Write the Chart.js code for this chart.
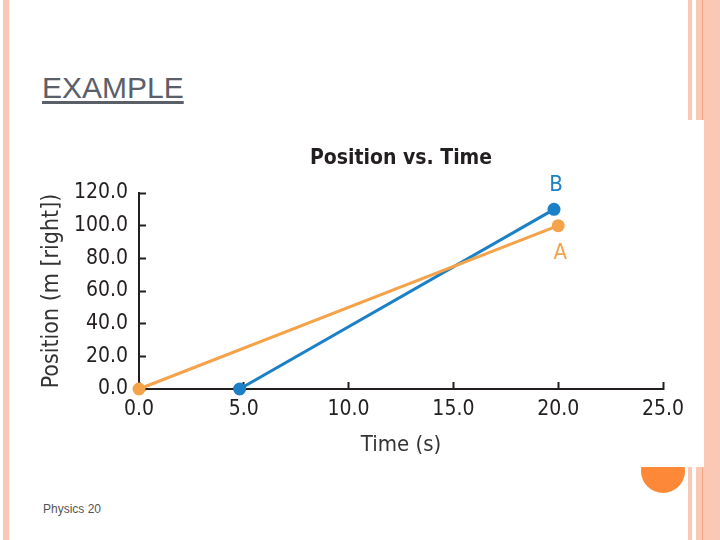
<!DOCTYPE html>
<html>
<head>
<meta charset="utf-8">
<script src="https://cdn.jsdelivr.net/npm/chart.js@4/dist/chart.umd.min.js"></script>
<style>
    html, body { margin: 0; padding: 0; background: #fff; }
    #slide { position: relative; width: 720px; height: 540px; overflow: hidden; font-family: 'Liberation Sans', Arial, sans-serif; }
    .stripe { position: absolute; top: 0; height: 540px; background: #fbc8b5; }
    #circle { position: absolute; left: 641px; top: 449px; width: 44px; height: 44px; border-radius: 50%; background: #fd8838; }
    #panel { position: absolute; left: 120px; top: 120px; width: 584px; height: 347px; background: #fff; }
    #heading { position: absolute; left: 42px; top: 71px; font-size: 30px; color: #5b6068; text-decoration: underline; text-decoration-thickness: 3px; text-underline-offset: 3px; }
    #footer { position: absolute; left: 43px; top: 502px; font-size: 12px; color: #555; }
    #chart { position: absolute; left: 0; top: 0; }
</style>
</head>
<body>
<div id="slide">
    <div class="stripe" style="left:3px; width:6px;"></div>
    <div class="stripe" style="left:688px; width:4px;"></div>
    <div class="stripe" style="left:696px; width:6px;"></div>
    <div class="stripe" style="left:702px; width:1px; background:#f3a889;"></div>
    <div class="stripe" style="left:703px; width:17px;"></div>
    <div id="circle"></div>
    <div id="panel"></div>
    <div id="heading">EXAMPLE</div>
    <div id="footer">Physics 20</div>
    <canvas id="chart" width="720" height="540"></canvas>
</div>
<script>
    const seriesNames = ['A', 'B'];
    const timeA = [0, 20];
    const positionA = [0, 100];
    const timeB = [4.8, 19.8];
    const positionB = [0, 110];
    const xTicks = [0, 5, 10, 15, 20, 25];
    const yTicks = [0, 20, 40, 60, 80, 100, 120];

    const orange = '#f5a34b';
    const blue = '#1b80c6';
    const ink = '#231f20';
    const narrow = "'Liberation Sans Narrow', 'DejaVu Sans Condensed', 'Arial Narrow', sans-serif";

    function toPoints(xs, ys) {
        return xs.map((x, i) => ({ x: x, y: ys[i] }));
    }

    // writes the series letter next to the last point of each line
    const endLabels = {
        id: 'endLabels',
        afterDatasetsDraw(chart) {
            const ctx = chart.ctx;
            ctx.save();
            ctx.font = '22px ' + narrow;
            ctx.textAlign = 'center';
            ctx.textBaseline = 'middle';
            chart.data.datasets.forEach((ds, i) => {
                const meta = chart.getDatasetMeta(i);
                const last = meta.data[meta.data.length - 1];
                const shift = ds.label === 'A' ? 28 : -24;
                ctx.fillStyle = ds.borderColor;
                ctx.fillText(ds.label, last.x + 2, last.y + shift);
            });
            ctx.restore();
        }
    };

    new Chart(document.getElementById('chart'), {
        type: 'scatter',
        data: {
            datasets: [
                {
                    label: seriesNames[0],
                    data: toPoints(timeA, positionA),
                    borderColor: orange,
                    backgroundColor: orange,
                    showLine: true,
                    borderWidth: 3,
                    pointRadius: 6.5,
                    pointBorderWidth: 0,
                    clip: false
                },
                {
                    label: seriesNames[1],
                    data: toPoints(timeB, positionB),
                    borderColor: blue,
                    backgroundColor: blue,
                    showLine: true,
                    borderWidth: 3,
                    pointRadius: 6.5,
                    pointBorderWidth: 0,
                    clip: false
                }
            ]
        },
        options: {
            responsive: false,
            animation: false,
            devicePixelRatio: 1,
            layout: { padding: { left: 0, right: 57, top: 130, bottom: 70 } },
            plugins: {
                legend: { display: false },
                tooltip: { enabled: false },
                title: {
                    display: true,
                    text: 'Position vs. Time',
                    fullSize: false,
                    color: ink,
                    font: { family: narrow, size: 21, weight: 'bold', lineHeight: 1.2 },
                    padding: { top: 16, bottom: 21.8 }
                }
            },
            scales: {
                x: {
                    type: 'linear',
                    min: xTicks[0],
                    max: xTicks[xTicks.length - 1],
                    afterBuildTicks(scale) { scale.ticks = xTicks.map(v => ({ value: v })); },
                    afterFit(scale) { scale.height = 81; },
                    grid: { drawOnChartArea: false, tickLength: -7, tickWidth: 2, tickColor: ink },
                    border: { color: ink, width: 2 },
                    ticks: {
                        padding: 15,
                        color: ink,
                        font: { family: narrow, size: 21 },
                        maxRotation: 0,
                        callback: v => v.toFixed(1)
                    },
                    title: {
                        display: true,
                        text: 'Time (s)',
                        color: '#333',
                        font: { family: narrow, size: 22 },
                        padding: { top: 0, bottom: 12 }
                    }
                },
                y: {
                    min: yTicks[0],
                    max: yTicks[yTicks.length - 1],
                    afterBuildTicks(scale) { scale.ticks = yTicks.map(v => ({ value: v })); },
                    afterFit(scale) { scale.width = 139; },
                    grid: { drawOnChartArea: false, tickLength: -7, tickWidth: 2, tickColor: ink },
                    border: { color: ink, width: 2 },
                    ticks: {
                        padding: 18,
                        color: ink,
                        font: { family: narrow, size: 21 },
                        callback: v => v.toFixed(1)
                    },
                    title: {
                        display: true,
                        text: 'Position (m [right])',
                        color: '#333',
                        font: { family: narrow, size: 23 },
                        padding: { top: 38, bottom: 0 }
                    }
                }
            }
        },
        plugins: [endLabels]
    });
</script>
</body>
</html>
